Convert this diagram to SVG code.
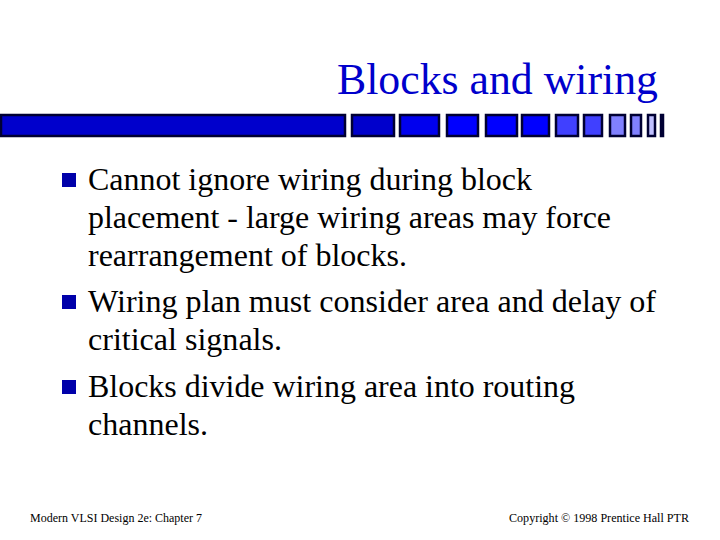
<svg xmlns="http://www.w3.org/2000/svg" width="720" height="540" viewBox="0 0 720 540">
<style>
.b{stroke:#000033;stroke-width:2.5}
.t{font-family:"Liberation Serif",serif;font-size:32px;fill:#000}
.f{font-family:"Liberation Serif",serif;font-size:12px;fill:#000}
.bul{fill:#0000aa}
</style>
<rect width="720" height="540" fill="#fff"/>
<g id="title"><text x="658" y="94" text-anchor="end" font-family="Liberation Serif,serif" font-size="44" fill="#0000cc" textLength="321" lengthAdjust="spacingAndGlyphs">Blocks and wiring</text></g>
<g id="bar">
<rect class="b" x="1" y="115" width="344" height="21" fill="#0000cc"/>
<rect class="b" x="352" y="115" width="42" height="21" fill="#0000cc"/>
<rect class="b" x="400" y="115" width="39" height="21" fill="#0000ee"/>
<rect class="b" x="447" y="115" width="31" height="21" fill="#0000ff"/>
<rect class="b" x="486" y="115" width="31" height="21" fill="#0000ff"/>
<rect class="b" x="522" y="115" width="27" height="21" fill="#0000ff"/>
<rect class="b" x="556" y="115" width="22" height="21" fill="#4040ff"/>
<rect class="b" x="584" y="115" width="18" height="21" fill="#4040ff"/>
<rect class="b" x="610" y="115" width="15" height="21" fill="#8080ff"/>
<rect class="b" x="631" y="115" width="10" height="21" fill="#8080ff"/>
<rect class="b" x="648" y="115" width="7" height="21" fill="#c0c0ff"/>
<rect class="b" x="661" y="115" width="2" height="21" fill="#c0c0ff"/>
</g>
<g id="bullets">
<rect class="bul" x="62" y="173" width="14" height="14"/>
<rect class="bul" x="62" y="295" width="14" height="14"/>
<rect class="bul" x="62" y="380" width="14" height="14"/>
<text class="t" x="88" y="190" textLength="444" lengthAdjust="spacingAndGlyphs">Cannot ignore wiring during block</text>
<text class="t" x="88" y="228" textLength="523" lengthAdjust="spacingAndGlyphs">placement - large wiring areas may force</text>
<text class="t" x="88" y="266" textLength="319" lengthAdjust="spacingAndGlyphs">rearrangement of blocks.</text>
<text class="t" x="88" y="312" textLength="568" lengthAdjust="spacingAndGlyphs">Wiring plan must consider area and delay of</text>
<text class="t" x="88" y="350" textLength="194" lengthAdjust="spacingAndGlyphs">critical signals.</text>
<text class="t" x="88" y="397" textLength="487" lengthAdjust="spacingAndGlyphs">Blocks divide wiring area into routing</text>
<text class="t" x="88" y="435" textLength="120" lengthAdjust="spacingAndGlyphs">channels.</text>
</g>
<g id="footer">
<text class="f" x="30" y="522" textLength="172" lengthAdjust="spacingAndGlyphs">Modern VLSI Design 2e: Chapter 7</text>
<text class="f" x="509" y="522" textLength="180" lengthAdjust="spacingAndGlyphs">Copyright © 1998 Prentice Hall PTR</text>
</g>
</svg>
